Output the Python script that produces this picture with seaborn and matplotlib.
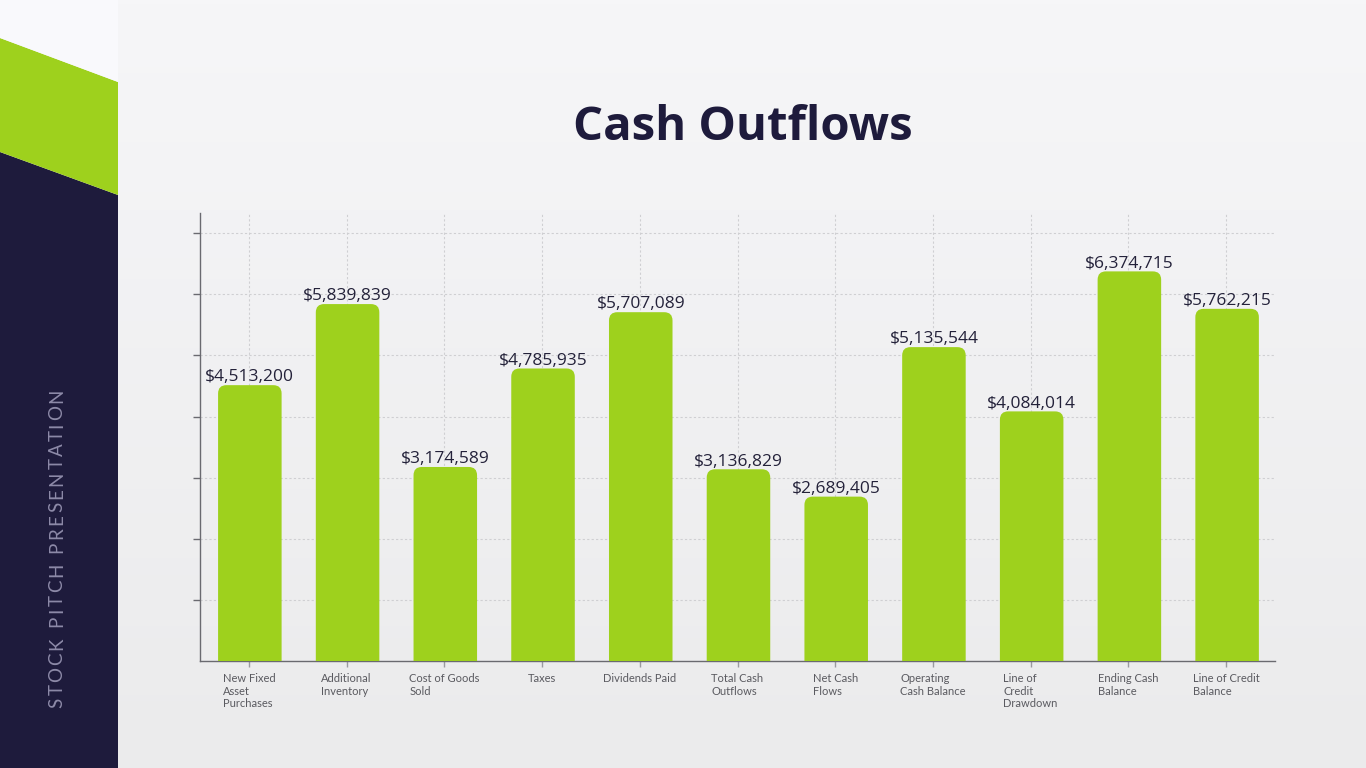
import numpy as np
import pandas as pd
import matplotlib
matplotlib.use("Agg")
import matplotlib.pyplot as plt
from matplotlib.patches import Polygon, FancyBboxPatch
import seaborn as sns

# chart data
categories = [
    "New Fixed\nAsset\nPurchases", "Additional\nInventory", "Cost of Goods\nSold",
    "Taxes", "Dividends Paid", "Total Cash\nOutflows", "Net Cash\nFlows",
    "Operating\nCash Balance", "Line of\nCredit\nDrawdown", "Ending Cash\nBalance",
    "Line of Credit\nBalance",
]
values = [4513200, 5839839, 3174589, 4785935, 5707089, 3136829,
          2689405, 5135544, 4084014, 6374715, 5762215]
title = "Cash Outflows"
side_text = "STOCK PITCH PRESENTATION"

navy = "#1e1b3c"
green = "#9ed11d"

df = pd.DataFrame({"category": categories, "value": values})

sns.set_theme(style="white")
plt.rcParams["font.family"] = ["Lato", "DejaVu Sans"]

fig = plt.figure(figsize=(13.66, 7.68), dpi=100)

# background gradient
bg = fig.add_axes([0, 0, 1, 1], zorder=-10)
grad = np.linspace(0, 1, 256).reshape(-1, 1)
cmap = matplotlib.colors.LinearSegmentedColormap.from_list("bg", ["#f6f6f8", "#ebebec"])
bg.imshow(grad, aspect="auto", cmap=cmap, extent=[0, 1, 0, 1], origin="upper")
bg.set_xlim(0, 1)
bg.set_ylim(0, 1)
bg.axis("off")

# left sidebar decoration
sw = 118 / 1366
def fy(py):
    return 1 - py / 768
bg.add_patch(Polygon([(0, 0), (sw, 0), (sw, fy(195)), (0, fy(152))], closed=True, color=navy, lw=0))
bg.add_patch(Polygon([(0, fy(152)), (sw, fy(195)), (sw, fy(82)), (0, fy(38))], closed=True, color=green, lw=0))
bg.add_patch(Polygon([(0, fy(38)), (sw, fy(82)), (sw, 1), (0, 1)], closed=True, color="#f9f9fc", lw=0))

# sidebar text with letter spacing, placed letter by letter from the bottom up
renderer = fig.canvas.get_renderer()
tracking = 2.3  # extra px between letters
widths = []
for ch in side_text:
    t = fig.text(0, 0, ch if ch != " " else "n", fontsize=13.5)
    w = t.get_window_extent(renderer).width
    if ch == " ":
        w *= 0.55
    widths.append(w)
    t.remove()
total = sum(widths) + tracking * (len(side_text) - 1)
pos = 768 - (548 + total / 2)  # start from bottom in figure pixel coords (y up)
for ch, w in zip(side_text, widths):
    if ch != " ":
        fig.text(57 / 1366, (pos + w / 2) / 768, ch, rotation=90, color="#8d8aa8",
                 fontsize=13.5, ha="center", va="center")
    pos += w + tracking

fig.text(743 / 1366, fy(128), title, fontsize=34, fontweight="bold", color=navy,
         ha="center", va="center", family=["Open Sans", "DejaVu Sans"])

ax = fig.add_axes([200 / 1366, 1 - 661 / 768, 1075 / 1366, (661 - 213) / 768])
ax.set_facecolor("none")
sns.barplot(data=df, x="category", y="value", color=green, width=0.65,
            saturation=1, ax=ax, zorder=3)

ax.set_xlim(-0.5, len(categories) - 0.5)
ax.set_ylim(0, 7.33e6)

# rounded top corners: replace each bar with a rounded box extending below the axis
px_x = 1075 / len(categories)          # pixels per x unit
px_y = 448 / 7.33e6                    # pixels per y unit
aspect = (1 / px_y) / (1 / px_x)
for p in list(ax.patches):
    x0, w, h = p.get_x(), p.get_width(), p.get_height()
    p.set_visible(False)
    box = FancyBboxPatch((x0 + 0.01, -1e6), w, h + 1e6,
                         boxstyle="round,pad=0,rounding_size=0.085",
                         mutation_aspect=aspect, facecolor=green, edgecolor="none",
                         zorder=3, clip_on=True)
    ax.add_patch(box)
    ax.text(x0 + 0.01 + w / 2, h - 0.005e6, f"${h:,.0f}", ha="center", va="bottom",
            fontsize=12.5, color="#24223a", family=["Open Sans", "DejaVu Sans"], zorder=4)

ax.set_yticks(np.arange(1e6, 7.01e6, 1e6))
ax.set_yticklabels([])
ax.set_xlabel("")
ax.set_ylabel("")
ax.grid(True, color="#cfcfd2", linestyle=(0, (2, 2)), linewidth=0.8, zorder=0)
ax.set_axisbelow(True)
for s in ["top", "right"]:
    ax.spines[s].set_visible(False)
for s in ["left", "bottom"]:
    ax.spines[s].set_color("#6a6a70")
    ax.spines[s].set_linewidth(1)
ax.tick_params(axis="y", left=True, length=5, color="#6a6a70", width=1)
ax.tick_params(axis="x", bottom=True, length=4, color="#9a9a9f", width=1, pad=5)
for lbl in ax.get_xticklabels():
    lbl.set_fontsize(8.0)
    lbl.set_color("#5a5a60")
    lbl.set_multialignment("left")
    lbl.set_verticalalignment("top")
    lbl.set_linespacing(1.15)

fig.savefig("out.png", dpi=100)
